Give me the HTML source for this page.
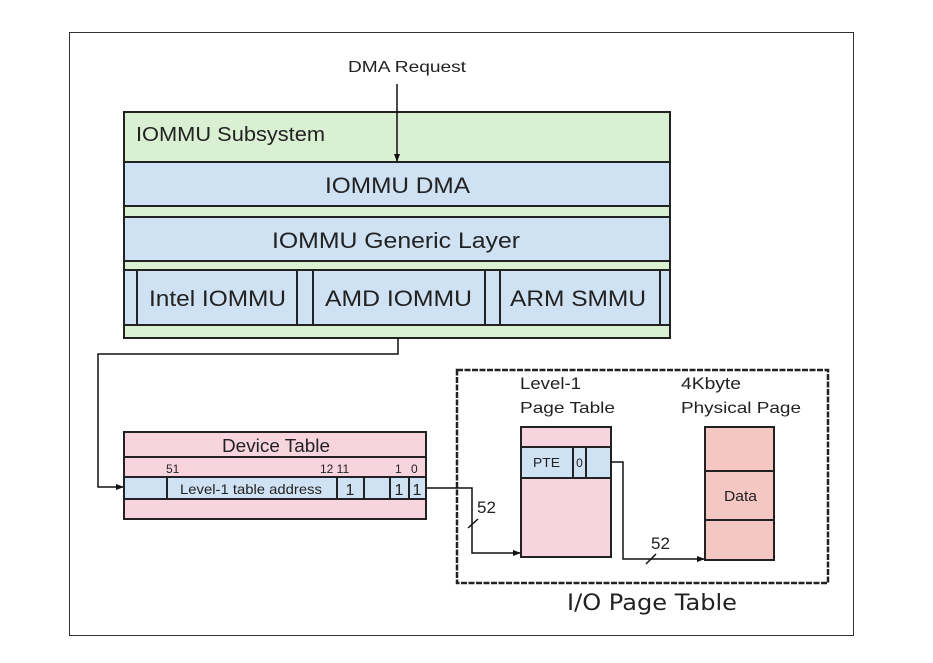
<!DOCTYPE html>
<html><head><style>
body{margin:0;background:#fff;}
svg text{font-family:"Liberation Sans",sans-serif;}
</style></head><body>
<svg width="933" height="658" viewBox="0 0 933 658" xmlns="http://www.w3.org/2000/svg">
<defs><marker id="a" markerWidth="8" markerHeight="8" refX="7" refY="4" orient="auto" markerUnits="userSpaceOnUse"><path d="M0,1 L8,4 L0,7 z" fill="#111"/></marker></defs>
<rect x="69.5" y="32.5" width="784" height="603" fill="#fff" stroke="#333" stroke-width="1"/>
<rect x="124" y="112" width="546" height="226" fill="#d9f0d3" stroke="#222" stroke-width="2"/>
<text x="136" y="141" font-size="20" fill="#222" textLength="189" lengthAdjust="spacingAndGlyphs">IOMMU Subsystem</text>
<rect x="124" y="162" width="546" height="44" fill="#cfe2f3" stroke="#222" stroke-width="2"/>
<text x="325" y="193" font-size="22" fill="#222" textLength="145" lengthAdjust="spacingAndGlyphs">IOMMU DMA</text>
<rect x="124" y="217" width="546" height="44" fill="#cfe2f3" stroke="#222" stroke-width="2"/>
<text x="272" y="248" font-size="22" fill="#222" textLength="248" lengthAdjust="spacingAndGlyphs">IOMMU Generic Layer</text>
<rect x="124" y="270" width="546" height="55" fill="#cfe2f3" stroke="#222" stroke-width="2"/>
<rect x="137" y="270" width="160" height="55" fill="#cfe2f3" stroke="#222" stroke-width="2"/>
<rect x="313" y="270" width="172" height="55" fill="#cfe2f3" stroke="#222" stroke-width="2"/>
<rect x="500" y="270" width="160" height="55" fill="#cfe2f3" stroke="#222" stroke-width="2"/>
<text x="149" y="306" font-size="22" fill="#222" textLength="137" lengthAdjust="spacingAndGlyphs">Intel IOMMU</text>
<text x="325" y="306" font-size="22" fill="#222" textLength="147" lengthAdjust="spacingAndGlyphs">AMD IOMMU</text>
<text x="510" y="306" font-size="22" fill="#222" textLength="136" lengthAdjust="spacingAndGlyphs">ARM SMMU</text>
<text x="348" y="72" font-size="16" fill="#222" textLength="118" lengthAdjust="spacingAndGlyphs">DMA Request</text>
<line x1="397" y1="84" x2="397" y2="161" stroke="#111" stroke-width="1.5" marker-end="url(#a)"/>
<polyline points="398,338 398,354 98,354 98,487 123,487" fill="none" stroke="#111" stroke-width="1.5" marker-end="url(#a)"/>
<rect x="124" y="432" width="302" height="87" fill="#f8d4df" stroke="#222" stroke-width="2"/>
<line x1="124" y1="457" x2="426" y2="457" stroke="#222" stroke-width="2"/>
<text x="222" y="452" font-size="18" fill="#222" textLength="108" lengthAdjust="spacingAndGlyphs">Device Table</text>
<text x="166" y="473" font-size="12" fill="#222">51</text>
<text x="320" y="473" font-size="12" fill="#222">12 11</text>
<text x="395" y="473" font-size="12" fill="#222">1</text>
<text x="411" y="473" font-size="12" fill="#222">0</text>
<rect x="124" y="477" width="302" height="22" fill="#cfe2f3" stroke="#222" stroke-width="2"/>
<rect x="167" y="477" width="170" height="22" fill="#cfe2f3" stroke="#222" stroke-width="2"/>
<rect x="337" y="477" width="27" height="22" fill="#cfe2f3" stroke="#222" stroke-width="2"/>
<rect x="390" y="477" width="19" height="22" fill="#cfe2f3" stroke="#222" stroke-width="2"/>
<rect x="409" y="477" width="17" height="22" fill="#cfe2f3" stroke="#222" stroke-width="2"/>
<text x="180" y="494" font-size="14" fill="#222" textLength="142" lengthAdjust="spacingAndGlyphs">Level-1 table address</text>
<text x="350" y="495" font-size="16" fill="#222" text-anchor="middle">1</text>
<text x="399" y="495" font-size="16" fill="#222" text-anchor="middle">1</text>
<text x="417" y="495" font-size="16" fill="#222" text-anchor="middle">1</text>
<rect x="457" y="370" width="371" height="213" fill="none" stroke="#222" stroke-width="2.5" stroke-dasharray="6,1.5"/>
<text x="520" y="389" font-size="17" fill="#222" textLength="61" lengthAdjust="spacingAndGlyphs">Level-1</text>
<text x="520" y="413" font-size="16" fill="#222" textLength="95" lengthAdjust="spacingAndGlyphs">Page Table</text>
<text x="681" y="389" font-size="17" fill="#222" textLength="60" lengthAdjust="spacingAndGlyphs">4Kbyte</text>
<text x="681" y="413" font-size="16" fill="#222" textLength="120" lengthAdjust="spacingAndGlyphs">Physical Page</text>
<rect x="521" y="427" width="90" height="130" fill="#f8d4df" stroke="#222" stroke-width="2"/>
<rect x="521" y="447" width="90" height="31" fill="#cfe2f3" stroke="#222" stroke-width="2"/>
<rect x="573" y="447" width="13" height="31" fill="#cfe2f3" stroke="#222" stroke-width="2"/>
<text x="533" y="467" font-size="13" fill="#222" textLength="27" lengthAdjust="spacingAndGlyphs">PTE</text>
<text x="579.5" y="467" font-size="12" fill="#222" text-anchor="middle">0</text>
<rect x="705" y="427" width="69" height="133" fill="#f4c7c3" stroke="#222" stroke-width="2"/>
<line x1="705" y1="471" x2="774" y2="471" stroke="#222" stroke-width="2"/>
<line x1="705" y1="520" x2="774" y2="520" stroke="#222" stroke-width="2"/>
<text x="724" y="501" font-size="15" fill="#222" textLength="33" lengthAdjust="spacingAndGlyphs">Data</text>
<polyline points="427,488 472,488 472,553 520,553" fill="none" stroke="#111" stroke-width="1.5" marker-end="url(#a)"/>
<line x1="468" y1="528" x2="478" y2="519" stroke="#111" stroke-width="1.5"/>
<text x="477" y="513" font-size="17" fill="#222">52</text>
<polyline points="611,462 623,462 623,559 704,559" fill="none" stroke="#111" stroke-width="1.5" marker-end="url(#a)"/>
<line x1="646" y1="564" x2="656" y2="554" stroke="#111" stroke-width="1.5"/>
<text x="651" y="549" font-size="17" fill="#222">52</text>
<text x="567" y="610" font-size="22" fill="#222" textLength="170" lengthAdjust="spacingAndGlyphs" style="font-family:'DejaVu Sans',sans-serif">I/O Page Table</text>
</svg>
</body></html>
